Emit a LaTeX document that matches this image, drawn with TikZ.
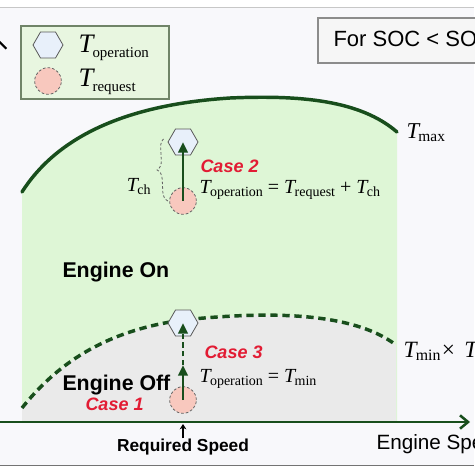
\documentclass[tikz,border=0pt]{standalone}
\usepackage{fontspec}
\usepackage{graphicx}
\setmainfont{Liberation Sans}
\newfontfamily\tnr{Liberation Serif}
\usetikzlibrary{shapes.geometric,arrows.meta,decorations.pathreplacing}

\definecolor{lineGreen}{RGB}{24,78,28}
\definecolor{onGreen}{RGB}{222,246,214}
\definecolor{offGray}{RGB}{234,234,234}
\definecolor{caseRed}{RGB}{226,28,52}
\definecolor{bgPaper}{RGB}{248,248,251}
\definecolor{legendFill}{RGB}{232,246,224}
\definecolor{legendEdge}{RGB}{112,132,104}
\definecolor{hexFill}{RGB}{232,240,250}
\definecolor{dotFill}{RGB}{248,200,190}
\definecolor{socFill}{RGB}{246,246,246}

\newcommand{\Tsub}[2][0.7]{{\itshape T}\kern-0.03em\raisebox{-0.35ex}{\scalebox{#1}{#2}}}

\tikzset{every picture/.style={line width=0.75pt}}
\tikzset{
  hexmark/.style={regular polygon, regular polygon sides=6, minimum size=22.5pt, inner sep=0pt, draw=black!65, fill=hexFill, line width=0.6pt},
  reqmark/.style={circle, minimum size=20pt, inner sep=0pt, draw=black!60, fill=dotFill, line width=0.6pt, dash pattern=on 2pt off 1.5pt},
  oparrow/.style={draw=lineGreen, line width=2pt, -{Triangle[length=8pt,width=7pt]}},
  chbrace/.style={draw=black!60, line width=0.6pt, dash pattern=on 2pt off 1.5pt, decorate, decoration={brace, amplitude=7pt}},
  casetext/.style={font=\fontsize{13.5}{15}\selectfont\bfseries\itshape, text=caseRed, inner sep=0pt},
  regiontext/.style={font=\fontsize{16}{18}\selectfont\bfseries, inner sep=0pt},
  tlabel/.style={font=\fontsize{15}{17}\selectfont\tnr, inner sep=0pt},
}

\begin{document}
\begin{tikzpicture}[x=0.75pt,y=0.75pt,yscale=-1,xscale=1]

                  \useasboundingbox (0,0) rectangle (474,474);
                  \fill [white] (0,0) rectangle (474,474);
                  \fill [bgPaper] (0,8) rectangle (474,465);
                  \draw [black!22, line width=0.6pt] (0,7) -- (474,7);
                  \draw [black!55, line width=1.2pt] (0,465.5) -- (474,465.5);


                  \fill [onGreen] (22,422) -- (22,192) .. controls (55,140) and (120,105) .. (230,98) .. controls (300,95) and (360,100) .. (397,132) -- (397,422) -- cycle ;

                  \fill [offGray] (22,422) -- (22,408) .. controls (60,360) and (110,330) .. (183,320) .. controls (260,312) and (350,310) .. (396,345) -- (396,422) -- cycle ;

                  \draw [lineGreen, line width=2.6pt, line cap=round] (22,192) .. controls (55,140) and (120,105) .. (230,98) .. controls (300,95) and (360,100) .. (397,132) ;

                  \draw [lineGreen, line width=2.6pt, dash pattern=on 5.5pt off 3.5pt] (22,408) .. controls (60,360) and (110,330) .. (183,320) .. controls (260,312) and (350,310) .. (396,345) ;


                  \coordinate (xorig) at (0,422);
                  \coordinate (xend) at (470,422);
                  \coordinate (yorig) at (-3,422);
                  \coordinate (ytop) at (-3,38);
                  \draw [lineGreen, line width=1.9pt, -{Straight Barb[length=6pt,width=10pt]}] (xorig) -- (xend) ;
                  \draw [black, line width=1.5pt, -{Straight Barb[length=7pt,width=14pt]}] (yorig) -- (ytop) ;


                  \draw [draw=legendEdge, fill=legendFill, line width=0.8pt] (21,26) rectangle (169,99) ;
                  \draw (48,45) node (legHex) [hexmark] {};
                  \draw (48,81) node (legDot) [reqmark] {};
                  \draw (78,53) node (legOp) [anchor=base west][inner sep=0pt] [font=\fontsize{20}{22}\selectfont\tnr] {\Tsub[0.56]{operation}};
                  \draw (78,87) node (legReq) [anchor=base west][inner sep=0pt] [font=\fontsize{20}{22}\selectfont\tnr] {\Tsub[0.56]{request}};

                  \draw [draw=black!45, fill=socFill, line width=0.8pt] (318,18) rectangle (480,63) ;
                  \draw (333,47) node (socNote) [anchor=base west][inner sep=0pt] [font=\fontsize{16.5}{18}\selectfont] {For SOC < SOC};


                  \draw (62,277) node (engOn) [anchor=base west] [regiontext] {Engine On};
                  \draw (62,390) node (engOff) [anchor=base west] [regiontext] {Engine Off};

                  \draw (183,142) node (hexB) [hexmark] {};
                  \draw (183,201) node (circB) [reqmark] {};
                  \draw (183,323) node (hexA) [hexmark] {};
                  \draw (183,400) node (circA) [reqmark] {};

                  \draw [chbrace] ([xshift=-1pt]circB.west) -- ([yshift=-3pt,xshift=-2pt]hexB.west) ;
                  \draw (151,191) node (chLab) [anchor=base east] [tlabel] {\Tsub{ch}};

                  \draw [oparrow] (circB.center) -- (hexB.center) ;
                  \draw [oparrow] (circA.center) -- ++(0,-35) coordinate (midA) ;
                  \draw [oparrow, dash pattern=on 4pt off 2.5pt] (midA) -- (hexA.center) ;

                  \draw (200,172) node (case2) [anchor=base west] [casetext] {Case 2};
                  \draw (204,358) node (case3) [anchor=base west] [casetext] {Case 3};
                  \draw (85,410) node (case1) [anchor=base west] [casetext] {Case 1};

                  \draw (199,193) node (eqTwo) [anchor=base west] [tlabel] {\Tsub{operation} = \Tsub{request} + \Tsub{ch}};
                  \draw (199,382) node (eqThree) [anchor=base west] [tlabel] {\Tsub{operation} = \Tsub{min}};

                  \draw (406,138) node (tMax) [anchor=base west] [tlabel, font=\fontsize{17}{19}\selectfont\tnr] {\Tsub[0.68]{max}};
                  \draw (403,357) node (tMin) [anchor=base west] [tlabel, font=\fontsize{17.5}{19}\selectfont\tnr] {\Tsub[0.68]{min}\kern1pt×\hspace{7pt}{\itshape T}};


                  \draw (183,447) node (reqSpd) [anchor=center] [inner sep=0pt] [font=\fontsize{13}{15}\selectfont\bfseries] {Required Speed};
                  \draw [black, line width=0.9pt, -{Stealth[length=4pt,width=5pt]}, shorten >=1.5pt] (reqSpd.north) -- (reqSpd.north |- xorig) ;
                  \draw (376,449) node (engSpd) [anchor=base west] [inner sep=0pt] [font=\fontsize{15.5}{18}\selectfont] {Engine Speed};


              \end{tikzpicture}
\end{document}
